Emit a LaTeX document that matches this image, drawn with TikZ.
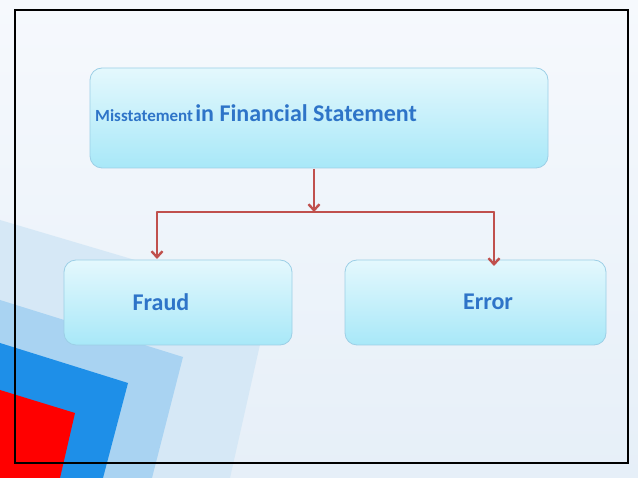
\documentclass[tikz,border=0pt]{standalone}
\usepackage{fontspec}
\setmainfont{Carlito}
\usetikzlibrary{arrows.meta}
\definecolor{arrc}{HTML}{C0504D}
\definecolor{txtc}{HTML}{2E74C8}
\definecolor{boxtop}{HTML}{E4F8FD}
\definecolor{boxbot}{HTML}{A8E8F8}
\definecolor{boxdraw}{HTML}{9CCFE6}
\definecolor{bgtop}{HTML}{F6F9FD}
\definecolor{bgbot}{HTML}{E6EFF8}
\definecolor{deco1}{HTML}{D6E8F6}
\definecolor{deco2}{HTML}{A9D3F2}
\definecolor{deco3}{HTML}{1E8FE8}
\begin{document}
\begin{tikzpicture}[x=1pt,y=-1pt,
  box/.style={draw=boxdraw, line width=0.8pt, rounded corners=12pt, top color=boxtop, bottom color=boxbot},
  lbl/.style={text=txtc, font=\bfseries},
  conn/.style={draw=arrc, line width=2.4pt},
  arr/.style={conn, -{Straight Barb[length=6pt,width=11pt]}}]
\useasboundingbox (0,0) rectangle (638,478);
\fill[top color=bgtop, bottom color=bgbot] (0,0) rectangle (638,478);
% decoration
\fill[deco1] (0,220) -- (270,300) -- (230,478) -- (0,478) -- cycle;
\fill[deco2] (0,300) -- (183,357) -- (152,478) -- (0,478) -- cycle;
\fill[deco3] (0,343) -- (128,383) -- (103,478) -- (0,478) -- cycle;
\fill[red] (0,390) -- (75,413) -- (60,478) -- (0,478) -- cycle;
% frame
\draw[black, line width=1.2pt] (15,10) rectangle (628,463);
% boxes
\path[box] (90,68) rectangle (548,168);
\node (top) at (319,118) {};
\node[lbl, anchor=west, inner sep=0] at (95,113) {{\fontsize{17}{20}\selectfont Misstatement} {\fontsize{24}{28}\selectfont in Financial Statement}};
\path[box] (64,260) rectangle (292,345);
\node (fr) at (178,302) {};
\node[lbl, font=\bfseries\fontsize{24}{28}\selectfont] at (161,302) {Fraud};
\path[box] (345,260) rectangle (606,345);
\node (er) at (475,302) {};
\node[lbl, font=\bfseries\fontsize{24}{28}\selectfont] at (488,302) {Error};
\coordinate (a) at (314,169);
\coordinate (b) at (314,212);
\coordinate (l) at (157,212);
\coordinate (r) at (494,212);
\coordinate (lb) at (157,259);
\coordinate (rb) at (494,266);
\draw[arr] (a) -- (b);
\draw[conn, line cap=round] (l) -- (r);
\draw[arr] (l) -- (lb);
\draw[arr] (r) -- (rb);
\end{tikzpicture}
\end{document}
